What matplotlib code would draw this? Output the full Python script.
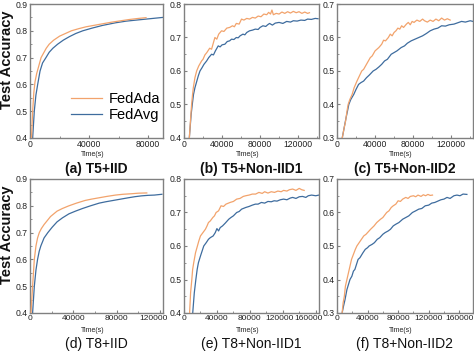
import numpy as np
import matplotlib
matplotlib.use("Agg")
import matplotlib.pyplot as plt
from matplotlib.ticker import MultipleLocator, FuncFormatter, NullFormatter

plt.rcParams['font.family'] = ['Liberation Sans', 'DejaVu Sans']

# ---------------- data ----------------
# (a) T5+IID
a_ada_t = [1000, 1800, 2600, 3400, 4500, 5500, 6500, 7500, 9000, 11000, 13000, 16000, 20000, 24000, 28000,
           33000, 38000, 43000, 49000, 55000, 61000, 67000, 73000, 78500]
a_ada_y = [.40, .50, .57, .61, .64, .66, .68, .70, .715, .735, .75, .765, .78, .79, .80,
           .808, .815, .82, .826, .832, .837, .842, .846, .849]
a_avg_t = [1800, 2900, 4000, 5200, 6800, 8500, 10800, 13000, 15500, 18700, 22500, 26600, 31000, 35700,
           42000, 49000, 58000, 65000, 72000, 81000, 90000]
a_avg_y = [.40, .50, .56, .60, .65, .68, .70, .72, .735, .75, .765, .778, .79, .80,
           .81, .82, .83, .836, .84, .845, .85]

# (b) T5+Non-IID1
b_ada_t = [5600, 7000, 8000, 9000, 9800, 11500, 13300, 15500, 18500, 20000, 22000, 24000, 27000, 29000,
           31000, 32500, 34500, 36500, 39500, 42000, 45000, 48000, 51000, 53000, 55000, 58000, 60500,
           63000, 66000, 69000, 72000, 75000, 78000, 81000, 84000, 87000, 89000, 91000, 92500, 94000,
           97000, 100000, 103000, 106000, 109000, 112000, 115000, 118000, 121000, 124000, 127000,
           130000, 132000]
b_ada_y = [.40, .46, .50, .53, .55, .58, .60, .615, .63, .635, .648, .655, .668, .665,
           .685, .70, .695, .71, .72, .718, .728, .73, .735, .732, .742, .74, .755,
           .752, .757, .755, .76, .758, .764, .762, .77, .768, .775, .77, .782, .768,
           .772, .77, .776, .772, .777, .773, .778, .774, .777, .772, .776,
           .772, .774]
b_avg_t = [5600, 7500, 8700, 10000, 11500, 13500, 15000, 16800, 19000, 21000, 23800, 26000, 29000, 31000,
           33000, 36000, 38000, 40000, 43000, 45500, 48000, 50000, 52500, 55000, 57000, 59000, 62000,
           64000, 66000, 69000, 72000, 75000, 78000, 80000, 83000, 86000, 88000, 90000, 93000, 96000,
           100000, 104000, 108000, 112000, 115000, 119000, 123000, 127000, 130000, 134000, 138000, 141000]
b_avg_y = [.40, .47, .50, .53, .55, .57, .585, .60, .61, .62, .63, .64, .65, .648,
           .66, .675, .672, .678, .68, .688, .69, .695, .694, .70, .699, .705, .71,
           .708, .715, .72, .722, .725, .724, .73, .735, .733, .738, .742, .737, .743,
           .745, .742, .748, .746, .75, .749, .752, .751, .755, .754, .757, .756]

# (c) T5+Non-IID2
c_ada_t = [5500, 7500, 9000, 10500, 11700, 13500, 15900, 18000, 21000, 23500, 26000, 28000, 30000, 33000,
           35000, 37000, 40000, 42000, 44000, 47000, 49000, 51000, 54000, 56000, 58000, 60000, 62000,
           64000, 66000, 68000, 70000, 73000, 75000, 77000, 79000, 81000, 84000, 87000, 90000, 92000,
           95000, 98000, 101000, 104000, 107000, 110000, 113000, 116000, 119000]
c_ada_y = [.30, .33, .35, .38, .40, .415, .43, .45, .47, .485, .50, .505, .515, .53,
           .54, .545, .56, .565, .57, .58, .592, .59, .60, .61, .605, .615, .62,
           .628, .625, .635, .63, .64, .645, .638, .648, .645, .652, .648, .655, .65,
           .646, .652, .648, .655, .65, .658, .652, .656, .652]
c_avg_t = [5500, 7500, 9500, 11000, 12400, 14500, 17600, 20000, 22700, 25000, 28000, 31000, 34000, 38000,
           41000, 44000, 47000, 50000, 53000, 57000, 60000, 63000, 67500, 71000, 74000, 78000, 82000,
           86000, 90000, 94000, 98000, 102000, 106000, 110000, 114000, 118000, 123000, 127000, 131000,
           135000, 140000, 143000]
c_avg_y = [.30, .33, .36, .38, .40, .415, .43, .445, .46, .465, .47, .48, .488, .50,
           .505, .512, .52, .53, .535, .55, .555, .56, .57, .575, .583, .59, .595,
           .60, .605, .612, .62, .625, .628, .635, .634, .638, .64, .644, .648,
           .646, .65, .648]

# (d) T8+IID
d_ada_t = [900, 2400, 4000, 5500, 7000, 8600, 10500, 13000, 16000, 19000, 22000, 25000, 30000, 36000,
           43000, 51000, 57000, 64000, 71000, 79000, 86000, 94000, 100000, 108000]
d_ada_y = [.40, .50, .60, .65, .68, .70, .715, .73, .745, .76, .77, .78, .79, .80,
           .81, .82, .825, .83, .835, .84, .843, .845, .847, .848]
d_avg_t = [2400, 4000, 5500, 7000, 8500, 10000, 13000, 16500, 20500, 25000, 30000, 36000, 42000, 48600,
           56000, 64000, 70000, 77000, 84000, 91000, 97000, 103000, 109000, 115000, 122000]
d_avg_y = [.40, .50, .56, .60, .63, .65, .68, .70, .72, .74, .755, .77, .78, .79,
           .80, .81, .815, .82, .825, .83, .834, .837, .839, .84, .843]

# (e) T8+Non-IID1
e_ada_t = [6800, 8000, 9500, 10500, 11800, 14000, 16300, 18000, 20000, 23000, 26000, 28000, 29700, 32000,
           35000, 37000, 39000, 42000, 45000, 48000, 51000, 54000, 56000, 60000, 64000, 68000, 72000,
           75000, 79000, 83000, 87000, 91000, 95000, 98000, 102000, 106000, 110000, 114000, 118000,
           121000, 125000, 128000, 132000, 136000, 140000, 143000, 146000]
e_ada_y = [.40, .46, .50, .53, .55, .58, .60, .615, .63, .64, .65, .66, .67, .675,
           .685, .69, .70, .705, .72, .718, .725, .728, .73, .733, .74, .742, .748,
           .75, .752, .755, .755, .76, .757, .762, .758, .762, .76, .764, .762,
           .766, .764, .768, .77, .766, .772, .768, .766]
e_avg_t = [10600, 12500, 14400, 16000, 17500, 20000, 22000, 24000, 27000, 29700, 32000, 35400, 38000,
           40000, 42000, 44000, 46800, 50000, 54400, 57000, 60000, 64000, 67000, 70000, 75000, 79000,
           83000, 86700, 90000, 94000, 98000, 102000, 106000, 109500, 113000, 117000, 121000, 125000,
           129000, 132000, 136000, 140000, 144000, 148000, 151000, 155000, 160000, 164000]
e_avg_y = [.40, .46, .50, .53, .55, .57, .585, .60, .61, .62, .625, .63, .64,
           .652, .645, .655, .66, .668, .68, .685, .69, .70, .703, .71, .715, .718,
           .722, .725, .725, .73, .728, .733, .732, .735, .734, .738, .74, .738,
           .743, .745, .742, .747, .748, .745, .75, .752, .75, .752]

# (f) T8+Non-IID2
f_ada_t = [6700, 8000, 9600, 11000, 13000, 14500, 16000, 17500, 19000, 21500, 24000, 26000, 29000, 32000,
           35000, 38000, 40000, 44000, 48500, 52000, 57000, 60000, 65000, 68000, 71000, 73600, 77000,
           80000, 83000, 86000, 90000, 93000, 96000, 100000, 103000, 106000, 110000, 113000, 116000,
           119000, 122000, 125000]
f_ada_y = [.30, .33, .35, .38, .40, .415, .43, .445, .46, .475, .49, .50, .51, .52,
           .53, .535, .54, .55, .56, .57, .58, .585, .60, .605, .615, .62, .625,
           .635, .633, .64, .645, .642, .648, .65, .647, .652, .648, .653, .65,
           .654, .651, .652]
f_avg_t = [6700, 8500, 10500, 13000, 15000, 17000, 19500, 21500, 23400, 25500, 27600, 30000, 34000, 37000,
           40000, 42000, 46000, 49000, 52700, 56000, 60000, 63000, 67000, 70000, 73600, 77000, 81000,
           86000, 90000, 94000, 98700, 103000, 107000, 111000, 115500, 120000, 124000, 128000, 132000,
           136000, 140000, 144000, 148000, 153000, 157000, 161000, 165000, 170000]
f_avg_y = [.30, .32, .34, .37, .385, .40, .41, .425, .43, .445, .46, .465, .48, .49,
           .495, .50, .505, .51, .52, .525, .535, .54, .545, .55, .56, .565, .57,
           .58, .585, .59, .60, .605, .61, .612, .62, .622, .628, .63, .634,
           .638, .64, .645, .642, .65, .652, .65, .655, .654]

series_labels = ["FedAda", "FedAvg"]
panel_titles = ["(a) T5+IID", "(b) T5+Non-IID1", "(c) T5+Non-IID2",
                "(d) T8+IID", "(e) T8+Non-IID1", "(f) T8+Non-IID2"]
panel_data = [
    (a_ada_t, a_ada_y, a_avg_t, a_avg_y),
    (b_ada_t, b_ada_y, b_avg_t, b_avg_y),
    (c_ada_t, c_ada_y, c_avg_t, c_avg_y),
    (d_ada_t, d_ada_y, d_avg_t, d_avg_y),
    (e_ada_t, e_ada_y, e_avg_t, e_avg_y),
    (f_ada_t, f_ada_y, f_avg_t, f_avg_y),
]
xlims = [90000, 142000, 143000, 123000, 164000, 178000]
ylims = [(0.4, 0.9), (0.4, 0.8), (0.3, 0.7), (0.4, 0.9), (0.4, 0.8), (0.3, 0.7)]
row2_xticks = [0, 40000, 80000, 120000, 160000]

# ---------------- style ----------------
W, H = 474, 351
ORANGE = "#F2A36C"
BLUE = "#3E6C9E"
FRAME = "#808080"
TXT = '#222222'

# small horizontal nudges (pixels) for crowded tick labels in the bottom row
label_nudge = {(3, 120000): -6, (4, 120000): -3, (4, 160000): -7}

fig = plt.figure(figsize=(W / 100, H / 100), dpi=100)

col_px = [(30, 163), (184, 319), (337, 473)]
row_px = [(4, 138), (179, 313)]

for i in range(6):
    r, c = divmod(i, 3)
    x0, x1 = col_px[c]
    y0, y1 = row_px[r]
    ax = fig.add_axes([x0 / W, 1 - y1 / H, (x1 - x0) / W, (y1 - y0) / H])
    ta, ya, tv, yv = panel_data[i]
    ax.plot(ta, ya, color=ORANGE, lw=0.9, label=series_labels[0], zorder=3)
    ax.plot(tv, yv, color=BLUE, lw=0.9, label=series_labels[1], zorder=2)
    ax.set_xlim(0, xlims[i])
    ax.set_ylim(*ylims[i])
    ax.xaxis.set_major_locator(MultipleLocator(40000))
    ax.xaxis.set_minor_locator(MultipleLocator(20000))
    ax.yaxis.set_major_locator(MultipleLocator(0.1))
    ax.yaxis.set_minor_locator(MultipleLocator(0.05))
    ax.yaxis.set_major_formatter(FuncFormatter(lambda v, p: f"{v:.1f}"))
    ax.tick_params(which='both', direction='in', colors=FRAME, labelcolor=TXT,
                   labelsize=6.2, pad=1.5)
    ax.tick_params(which='major', length=2.5, width=0.8)
    ax.tick_params(which='minor', length=1.5, width=0.6)
    if r == 0:
        ax.xaxis.set_major_formatter(FuncFormatter(lambda v, p: f"{int(round(v))}"))
    else:
        ax.xaxis.set_major_formatter(NullFormatter())
        for tv_ in row2_xticks:
            if tv_ > xlims[i]:
                continue
            dx = label_nudge.get((i, tv_), 0) * 0.72
            ax.annotate(f"{tv_}", xy=(tv_, 0), xycoords=('data', 'axes fraction'),
                        xytext=(dx, -1.5), textcoords='offset points',
                        ha='center', va='top', fontsize=6.0, color=TXT)
    for s in ax.spines.values():
        s.set_color(FRAME)
        s.set_linewidth(1.0)
    cx = (x0 + x1) / 2
    fig.text((cx - 4) / W, 1 - (y1 + 17) / H, "Time(s)", ha='center', va='center',
             fontsize=5, color=TXT)
    fig.text(cx / W, 1 - (y1 + 31) / H, panel_titles[i], ha='center', va='center',
             fontsize=10, fontweight='bold' if r == 0 else 'normal', color='#111111')
    if i == 0:
        ax.legend(loc='lower right', bbox_to_anchor=(0.98, 0.12), frameon=False,
                  fontsize=10.5, handlelength=2.1, handletextpad=0.5,
                  labelspacing=0.1, borderpad=0, borderaxespad=0)

for yc in (60, 235):
    fig.text(7 / W, 1 - yc / H, "Test Accuracy", rotation=90, ha='center', va='center',
             fontsize=10.5, fontweight='bold', color='#111111')

fig.savefig("out.png", dpi=100)
